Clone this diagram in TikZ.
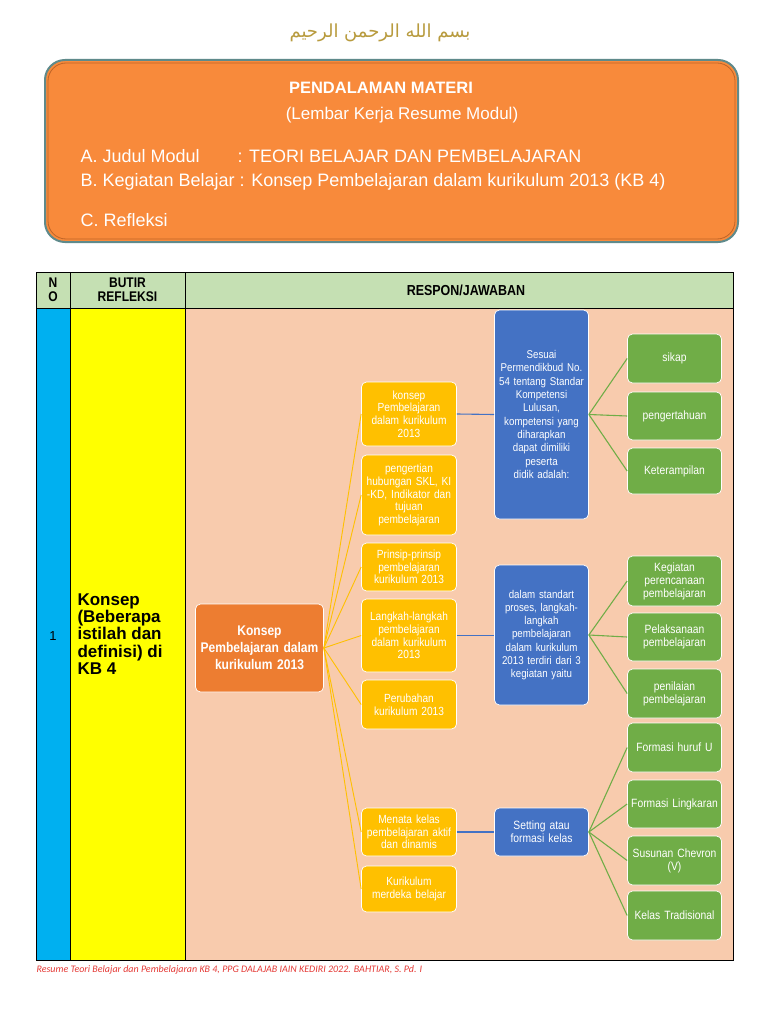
\documentclass[tikz,border=0pt]{standalone}
\usepackage{fontspec}
\setmainfont{Liberation Sans}
\newfontfamily\narrow[FakeStretch=0.86]{Liberation Sans}
\newfontfamily\arabicfont[Script=Arabic]{DejaVu Sans}
\newfontfamily\calib{Carlito}
\TeXXeTstate=1
\definecolor{hdrorange}{HTML}{F88A3B}
\definecolor{mainorange}{HTML}{ED7D31}
\definecolor{ycol}{HTML}{FFC000}
\definecolor{bcol}{HTML}{4472C4}
\definecolor{gcol}{HTML}{70AD47}
\definecolor{peach}{HTML}{F8CBAD}
\definecolor{hgreen}{HTML}{C5E0B3}
\definecolor{cyanc}{HTML}{00B0F0}
\definecolor{yelc}{HTML}{FFFF00}
\definecolor{footred}{HTML}{E53935}
\definecolor{gold}{HTML}{B89B3E}
\definecolor{hdrborder}{HTML}{5F8A8B}
\begin{document}
\begin{tikzpicture}[x=1pt,y=-1pt,
  basebox/.style={rounded corners=5pt, draw=white, line width=0.7pt, text=white, align=center, inner sep=1pt},
  ybox/.style={basebox, fill=ycol, minimum width=94pt, text width=93pt, font=\narrow\fontsize{11.8}{12.6}\selectfont},
  bbox/.style={basebox, fill=bcol, minimum width=93pt, text width=92pt, font=\narrow\fontsize{11.3}{13.3}\selectfont},
  gbox/.style={basebox, fill=gcol, minimum width=93pt, text width=92pt, font=\narrow\fontsize{12}{13}\selectfont},
  ylink/.style={draw=ycol, line width=0.9pt},
  blink/.style={draw=bcol, line width=1.1pt},
  glink/.style={draw=gcol, line width=1.1pt},
  hdrtext/.style={text=white, anchor=west, font=\fontsize{18}{21}\selectfont},
  thead/.style={font=\narrow\bfseries\fontsize{14}{14.5}\selectfont, align=center}
]
\useasboundingbox (0,0) rectangle (768,1024);
\fill[white] (0,0) rectangle (768,1024);

% Bismillah
\node[text=gold, font=\arabicfont\fontsize{18}{22}\selectfont] (bism) at (380,33) {\beginR بسم الله الرحمن الرحيم\endR};

% Header box
\draw[rounded corners=20pt, fill=hdrorange, draw=hdrborder, line width=2pt] (45,60) rectangle (738,242);
\draw[rounded corners=18pt, draw=mainorange!80!black, line width=0.8pt] (48,63) rectangle (735,239);
\node[text=white, font=\bfseries\fontsize{16.5}{19}\selectfont] (t1) at (381,88) {PENDALAMAN MATERI};
\node[text=white, font=\fontsize{17}{20}\selectfont] (t2) at (402,115) {(Lembar Kerja Resume Modul)};
\node[hdrtext] (ta) at (77,156) {A. Judul Modul};
\node[hdrtext] (ta2) at (234,156) {: TEORI BELAJAR DAN PEMBELAJARAN};
\node[hdrtext] (tb) at (77,182) {B. Kegiatan Belajar : Konsep Pembelajaran dalam kurikulum 2013 (KB 4)};
\node[hdrtext] (tc) at (77,220) {C. Refleksi};

% Table
\fill[hgreen] (36,272) rectangle (733,308);
\fill[cyanc] (36,308) rectangle (70,960);
\fill[yelc] (70,308) rectangle (185,960);
\fill[peach] (185,308) rectangle (733,960);
\draw[black, line width=1pt] (36,272) rectangle (733,960);
\draw[black, line width=1pt] (70,272) -- (70,960);
\draw[black, line width=1pt] (185,272) -- (185,960);
\draw[black, line width=0.6pt] (36,308) -- (733,308);

\node[thead] (hno) at (53,290) {N\\O};
\node[thead] (hbutir) at (127.5,290) {BUTIR\\REFLEKSI};
\node[thead, font=\narrow\bfseries\fontsize{14.5}{15}\selectfont] (hresp) at (466,290) {RESPON/JAWABAN};

\node[font=\fontsize{13}{15}\selectfont] (no1) at (53,636) {1};
\node[anchor=west, align=left, font=\bfseries\fontsize{17}{17.4}\selectfont] (butir1) at (74,634) {Konsep\\(Beberapa\\istilah dan\\definisi) di\\KB 4};

% Main node
\node[basebox, fill=mainorange, minimum width=127pt, minimum height=88pt, text width=126pt, font=\narrow\bfseries\fontsize{14}{17}\selectfont] (main) at (259.5,648) {Konsep\\Pembelajaran dalam\\kurikulum 2013};

% Yellow boxes
\node[ybox, minimum height=64pt] (y1) at (409,414) {konsep\\Pembelajaran\\dalam kurikulum\\2013};
\node[ybox, minimum height=80pt] (y2) at (409,495) {pengertian\\hubungan SKL, KI\\-KD, Indikator dan\\tujuan\\pembelajaran};
\node[ybox, minimum height=48pt] (y3) at (409,567) {Prinsip-prinsip\\pembelajaran\\kurikulum 2013};
\node[ybox, minimum height=73pt] (y4) at (409,635.5) {Langkah-langkah\\pembelajaran\\dalam kurikulum\\2013};
\node[ybox, minimum height=49pt] (y5) at (409,704.5) {Perubahan\\kurikulum 2013};
\node[ybox, minimum height=48pt] (y6) at (409,832) {Menata kelas\\pembelajaran aktif\\dan dinamis};
\node[ybox, minimum height=46pt] (y7) at (409,889) {Kurikulum\\merdeka belajar};

\foreach \n in {y1,y2,y3,y4,y5,y6,y7} { \draw[ylink] (main.east) -- (\n.west); }

% Blue boxes
\node[bbox, minimum height=209pt] (b1) at (541.5,414.5) {Sesuai\\Permendikbud No.\\54 tentang Standar\\Kompetensi\\Lulusan,\\kompetensi yang\\diharapkan\\dapat dimiliki\\peserta\\didik adalah:};
\node[bbox, minimum height=140pt] (b2) at (541.5,635) {dalam standart\\proses, langkah-\\langkah\\pembelajaran\\dalam kurikulum\\2013 terdiri dari 3\\kegiatan yaitu};
\node[bbox, minimum height=48pt, font=\narrow\fontsize{12}{13}\selectfont] (b3) at (541.5,832) {Setting atau\\formasi kelas};

\draw[blink] (y1.east) -- (b1.west);
\draw[blink] (y4.east) -- (b2.west |- y4.east);
\draw[blink] (y6.east) -- (b3.west);

% Green boxes
\node[gbox, minimum height=49pt] (g1) at (674.5,358.5) {sikap};
\node[gbox, minimum height=48pt] (g2) at (674.5,416) {pengertahuan};
\node[gbox, minimum height=46pt] (g3) at (674.5,471) {Keterampilan};
\node[gbox, minimum height=50pt] (g4) at (674.5,581) {Kegiatan\\perencanaan\\pembelajaran};
\node[gbox, minimum height=48pt] (g5) at (674.5,637) {Pelaksanaan\\pembelajaran};
\node[gbox, minimum height=49pt] (g6) at (674.5,693.5) {penilaian\\pembelajaran};
\node[gbox, minimum height=49pt] (g7) at (674.5,747.5) {Formasi huruf U};
\node[gbox, minimum height=48pt] (g8) at (674.5,804) {Formasi Lingkaran};
\node[gbox, minimum height=49pt] (g9) at (674.5,860.5) {Susunan Chevron\\(V)};
\node[gbox, minimum height=49pt] (g10) at (674.5,915.5) {Kelas Tradisional};

\foreach \n in {g1,g2,g3} { \draw[glink] (b1.east) -- (\n.west); }
\foreach \n in {g4,g5,g6} { \draw[glink] (b2.east) -- (\n.west); }
\foreach \n in {g7,g8,g9,g10} { \draw[glink] (b3.east) -- (\n.west); }

% Footer
\node[anchor=west, text=footred, font=\calib\itshape\fontsize{10}{12}\selectfont] (foot) at (33,970) {Resume Teori Belajar dan Pembelajaran KB 4, PPG DALAJAB IAIN KEDIRI 2022. BAHTIAR, S. Pd. I};
\end{tikzpicture}
\end{document}
